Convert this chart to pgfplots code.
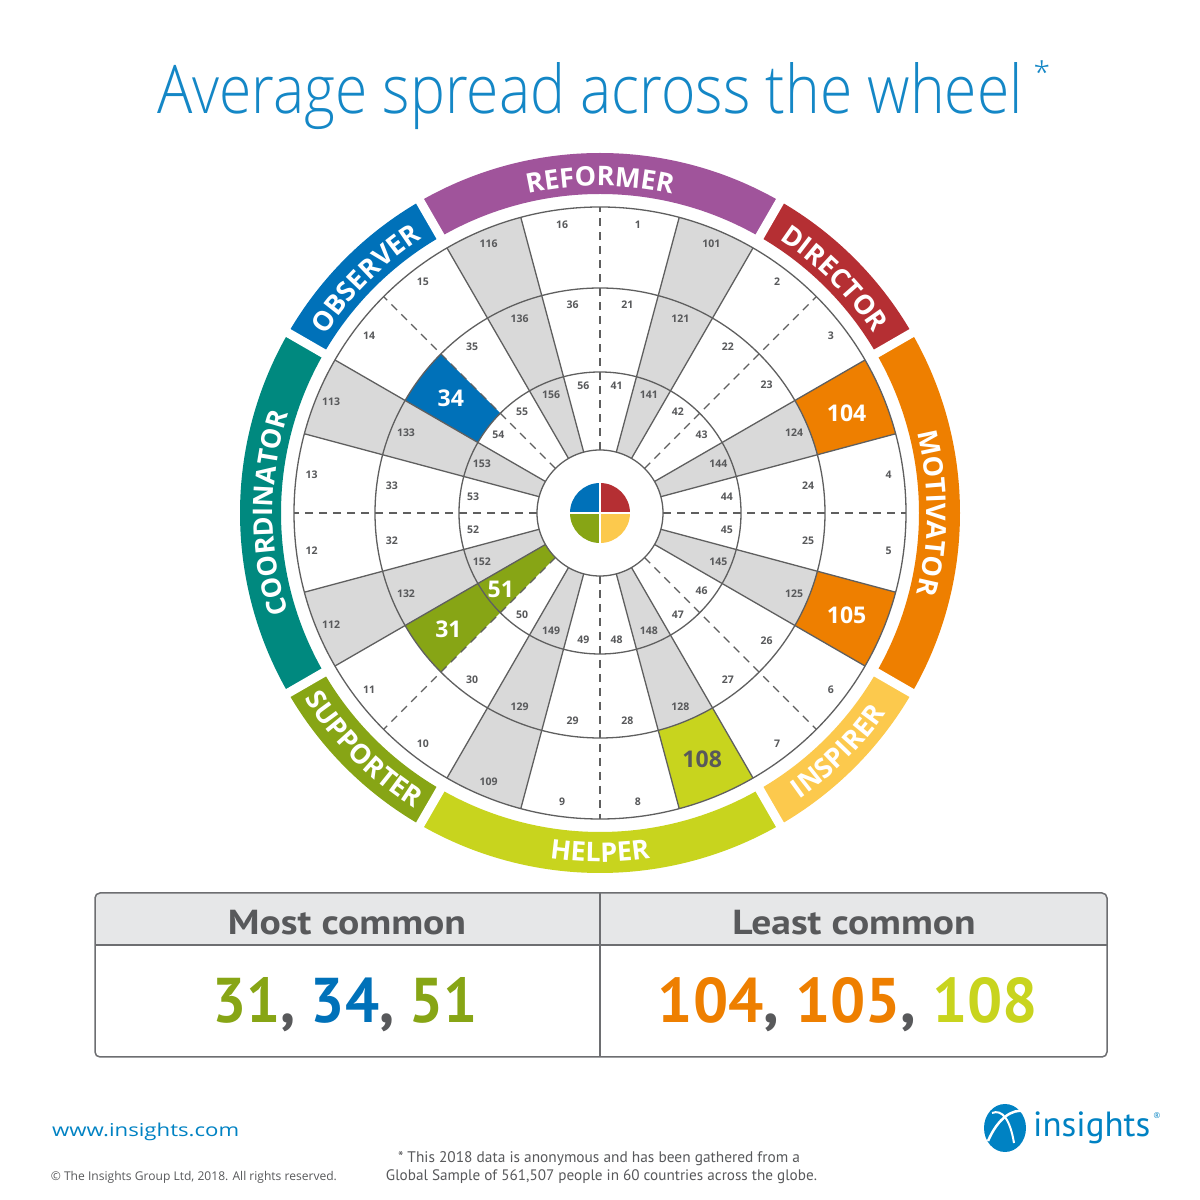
\documentclass[border=0pt]{standalone}
\usepackage{fontspec}
\usepackage{pgfplots}
\pgfplotsset{compat=1.18}
\usetikzlibrary{calc,decorations.text}
\setmainfont{Open Sans}
\IfFontExistsTF{Open Sans Light}{\newfontfamily\lightfont{Open Sans Light}}{\newfontfamily\lightfont{Open Sans}}
\newfontfamily\ptsans{PT Sans}

\definecolor{lblgrey}{HTML}{58595B}
\definecolor{linegrey}{HTML}{5F5F5F}
\definecolor{sectgrey}{HTML}{D9D9D9}
\definecolor{hdrgrey}{HTML}{E6E7E8}
\definecolor{tblgrey}{HTML}{6D6E71}
\definecolor{cpurple}{HTML}{A0549B}
\definecolor{cred}{HTML}{B52F33}
\definecolor{corange}{HTML}{EE7F00}
\definecolor{cyellow}{HTML}{FCC94D}
\definecolor{clime}{HTML}{C8D41E}
\definecolor{cgreen}{HTML}{87A515}
\definecolor{cteal}{HTML}{00897F}
\definecolor{cblue}{HTML}{0071B9}
\definecolor{ctitle}{HTML}{1487C6}
\definecolor{clogo}{HTML}{0082C3}

\newcommand\lblfont{\fontsize{10.5}{12}\selectfont\bfseries}
\newcommand\bigfont{\fontsize{23}{26}\selectfont\bfseries}
\newcommand\ringfont{\fontsize{27}{30}\selectfont\bfseries}

% annular sector: colour, compass angle 1, compass angle 2, inner r, outer r
\newcommand\sector[5]{%
  \pgfmathsetmacro\aA{90-(#2)}%
  \pgfmathsetmacro\aB{90-(#3)}%
  \fill[#1] ($(O)+(\aA:#4pt)$) -- ($(O)+(\aA:#5pt)$)
     arc[start angle=\aA, end angle=\aB, radius=#5pt]
     -- ($(O)+(\aB:#4pt)$)
     arc[start angle=\aB, end angle=\aA, radius=#4pt] -- cycle;}
% text on ring: start angle, end angle (math), radius, text
\newcommand\ringtext[4]{%
  \path[decorate, decoration={text along path, text align=center,
     text={|\ringfont\color{white}|#4}}]
     ($(O)+(#1:#3pt)$) arc[start angle=#1, end angle=#2, radius=#3pt];}

\begin{document}
\begin{tikzpicture}
\begin{axis}[x=1pt, y=1pt, xmin=-600, xmax=600, ymin=-687, ymax=513,
  hide axis, clip=false]
\pgfplotsextra{
  \fill[white] (axis cs:-600,-687) rectangle (axis cs:600,513);
  \coordinate (O) at (axis cs:0,0);
  % grey wedges
  \foreach \c in {15,60,105,150,195,240,285,330} {\sector{sectgrey}{\c}{\c+15}{63}{306}}
  % highlighted cells
  \sector{corange}{60}{75}{225}{306}
  \sector{corange}{105}{120}{225}{306}
  \sector{clime}{150}{165}{225}{306}
  \sector{cblue}{300}{315}{141}{225}
  \sector{cgreen}{225}{240}{141}{225}
  \sector{cgreen}{225}{240}{63}{141}
  % rings
  \foreach \r in {63,141,225,306} {\draw[linegrey, line width=1.3pt] (O) circle[radius=\r pt];}
  % solid spokes
  \foreach \c in {15,30,60,75,105,120,150,165,195,210,240,255,285,300,330,345} {
    \pgfmathsetmacro\a{90-\c}
    \draw[linegrey, line width=1.3pt] ($(O)+(\a:63pt)$) -- ($(O)+(\a:306pt)$);}
  % dashed spokes
  \foreach \c in {0,45,90,135,180,225,270,315} {
    \pgfmathsetmacro\a{90-\c}
    \draw[linegrey, line width=1.3pt, dash pattern=on 8pt off 6pt] ($(O)+(\a:63pt)$) -- ($(O)+(\a:306pt)$);}
  % small labels
  \foreach \k/\o/\m/\i in {0/1/21/41,1/101/121/141,2/2/22/42,3/3/23/43,4//124/144,
     5/4/24/44,6/5/25/45,7//125/145,8/6/26/46,9/7/27/47,10//128/148,11/8/28/48,
     12/9/29/49,13/109/129/149,14/10/30/50,15/11//,16/112/132/152,17/12/32/52,
     18/13/33/53,19/113/133/153,20/14//54,21/15/35/55,22/116/136/156,23/16/36/56} {
    \pgfmathsetmacro\a{90-(7.5+15*\k)}
    \node[font=\lblfont, text=lblgrey, inner sep=0pt] at ($(O)+(\a:291pt)$) {\o};
    \node[font=\lblfont, text=lblgrey, inner sep=0pt] at ($(O)+(\a:210pt)$) {\m};
    \node[font=\lblfont, text=lblgrey, inner sep=0pt] at ($(O)+(\a:128pt)$) {\i};}
  % big labels
  \node[font=\bigfont, text=white, inner sep=0pt] at ($(O)+(22:266pt)$) {104};
  \node[font=\bigfont, text=white, inner sep=0pt] at ($(O)+(-22.5:267pt)$) {105};
  \node[font=\bigfont, text=lblgrey, inner sep=0pt] at ($(O)+(-67.5:267pt)$) {108};
  \node[font=\bigfont, text=white, inner sep=0pt] at ($(O)+(142.5:188pt)$) {34};
  \node[font=\bigfont, text=white, inner sep=0pt] at ($(O)+(-142.5:191pt)$) {31};
  \node[font=\bigfont, text=white, inner sep=0pt] at ($(O)+(-142.5:125pt)$) {51};
  % centre pie
  \fill[cred] (O) -- ($(O)+(90:30pt)$) arc[start angle=90, end angle=0, radius=30pt] -- cycle;
  \fill[cyellow] (O) -- ($(O)+(0:30pt)$) arc[start angle=0, end angle=-90, radius=30pt] -- cycle;
  \fill[cgreen] (O) -- ($(O)+(-90:30pt)$) arc[start angle=-90, end angle=-180, radius=30pt] -- cycle;
  \fill[cblue] (O) -- ($(O)+(180:30pt)$) arc[start angle=180, end angle=90, radius=30pt] -- cycle;
  \draw[white, line width=2pt] ($(O)+(0pt,-31pt)$) -- ($(O)+(0pt,31pt)$);
  \draw[white, line width=2pt] ($(O)+(-31pt,0pt)$) -- ($(O)+(31pt,0pt)$);
  % outer coloured ring
  \sector{cpurple}{-30}{30}{319}{360}
  \sector{cred}{30}{60}{319}{360}
  \sector{corange}{60}{120}{319}{360}
  \sector{cyellow}{120}{150}{319}{360}
  \sector{clime}{150}{210}{319}{360}
  \sector{cgreen}{210}{240}{319}{360}
  \sector{cteal}{240}{300}{319}{360}
  \sector{cblue}{300}{330}{319}{360}
  \foreach \c in {30,60,120,150,210,240,300,330} {
    \pgfmathsetmacro\a{90-\c}
    \draw[white, line width=9pt] ($(O)+(\a:312pt)$) -- ($(O)+(\a:368pt)$);}
  \ringtext{120}{60}{327}{REFORMER}
  \ringtext{60}{30}{327}{DIRECTOR}
  \ringtext{30}{-30}{327}{MOTIVATOR}
  \ringtext{210}{150}{327}{COORDINATOR}
  \ringtext{150}{120}{327}{OBSERVER}
  \ringtext{-60}{-30}{349}{INSPIRER}
  \ringtext{-120}{-60}{349}{HELPER}
  \ringtext{-150}{-120}{349}{SUPPORTER}
  % title
  \node[anchor=base west, inner sep=0pt, text=ctitle] at (axis cs:-443,399.7)
     {\resizebox{865pt}{51pt}{\lightfont Average spread across the wheel}};
  \node[inner sep=0pt, text=ctitle, font=\lightfont\fontsize{30}{30}\selectfont] at (axis cs:442,441) {*};
  % table
  \begin{scope}
    \clip[rounded corners=5pt] (axis cs:-505,-544) rectangle (axis cs:507,-380);
    \fill[hdrgrey] (axis cs:-505,-432) rectangle (axis cs:507,-380);
  \end{scope}
  \draw[tblgrey, line width=1.5pt, rounded corners=5pt] (axis cs:-505,-544) rectangle (axis cs:507,-380);
  \draw[tblgrey, line width=1.5pt] (axis cs:-505,-432) -- (axis cs:507,-432);
  \draw[tblgrey, line width=1.5pt] (axis cs:0,-380) -- (axis cs:0,-544);
  \node[anchor=base, inner sep=0pt, text=lblgrey] at (axis cs:-253,-422)
     {\resizebox{238pt}{24.3pt}{\ptsans\bfseries Most common}};
  \node[anchor=base, inner sep=0pt, text=lblgrey] at (axis cs:254,-422)
     {\resizebox{243pt}{24.3pt}{\ptsans\bfseries Least common}};
  \node[anchor=base, inner sep=0pt, text=lblgrey] at (axis cs:-255,-510)
     {\resizebox{265pt}{45pt}{\ptsans\bfseries\textcolor{cgreen}{31}, \textcolor{cblue}{34}, \textcolor{cgreen}{51}}};
  \node[anchor=base, inner sep=0pt, text=lblgrey] at (axis cs:248,-510)
     {\resizebox{380pt}{45pt}{\ptsans\bfseries\textcolor{corange}{104}, \textcolor{corange}{105}, \textcolor{clime}{108}}};
  % footer
  \node[anchor=base west, inner sep=0pt, text=clogo] at (axis cs:-548,-623.7)
     {\resizebox{187pt}{13.5pt}{www.insights.com}};
  \node[anchor=base west, inner sep=0pt, text=lblgrey] at (axis cs:-549.3,-668)
     {\resizebox{286pt}{!}{\fontsize{13}{14}\selectfont \textcopyright{} The Insights Group Ltd, 2018. All rights reserved.}};
  \node[anchor=base, inner sep=0pt, text=lblgrey] at (axis cs:-1,-649.7)
     {\resizebox{402pt}{!}{\ptsans\fontsize{14}{15}\selectfont * This 2018 data is anonymous and has been gathered from a}};
  \node[anchor=base, inner sep=0pt, text=lblgrey] at (axis cs:1.5,-668)
     {\resizebox{431pt}{!}{\ptsans\fontsize{14}{15}\selectfont Global Sample of 561,507 people in 60 countries across the globe.}};
  % logo
  \fill[clogo] (axis cs:405,-615) ellipse[x radius=21pt, y radius=24pt];
  \draw[white, line width=2.5pt] (axis cs:388,-628) .. controls (axis cs:398,-605) and (axis cs:412,-596) .. (axis cs:424,-598);
  \draw[white, line width=2pt] (axis cs:392,-600) .. controls (axis cs:402,-596) and (axis cs:410,-606) .. (axis cs:414,-630);
  \node[anchor=base west, inner sep=0pt, text=clogo] at (axis cs:433,-624)
     {\resizebox{117pt}{!}{\ptsans\fontsize{32}{34}\selectfont insights}};
  \node[inner sep=0pt, text=clogo, font=\fontsize{8}{8}\selectfont] at (axis cs:557,-603) {\textregistered};
}
\end{axis}
\end{tikzpicture}
\end{document}
